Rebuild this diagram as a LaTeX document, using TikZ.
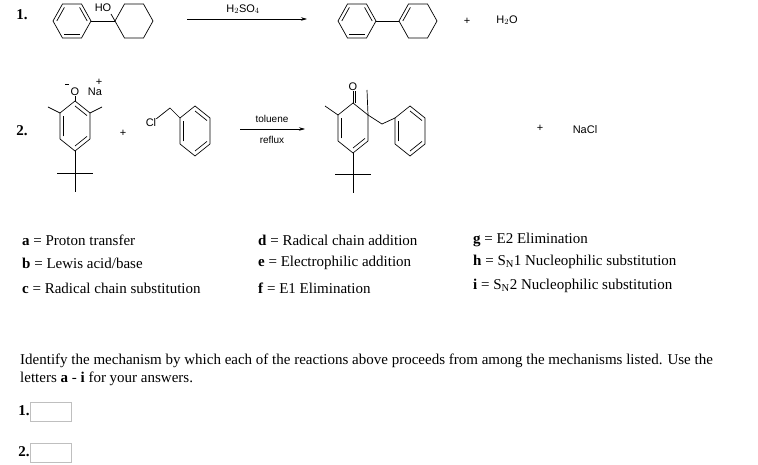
\documentclass[tikz,border=0pt]{standalone}
\usepackage{fontspec}
\setmainfont{Liberation Serif}
\newfontfamily\chemsf{Liberation Sans}
\usetikzlibrary{calc,arrows.meta}
\newcommand{\hexF}[3]{%
  \coordinate (#1) at (#2,#3);
  \coordinate (#11) at ($(#1)+(19,0)$);
  \coordinate (#12) at ($(#1)+(9.5,-17)$);
  \coordinate (#13) at ($(#1)+(-9.5,-17)$);
  \coordinate (#14) at ($(#1)+(-19,0)$);
  \coordinate (#15) at ($(#1)+(-9.5,17)$);
  \coordinate (#16) at ($(#1)+(9.5,17)$);
  \draw[bond] (#11)--(#12)--(#13)--(#14)--(#15)--(#16)--cycle;}
\newcommand{\hexP}[3]{%
  \coordinate (#1) at (#2,#3);
  \coordinate (#11) at ($(#1)+(0,-25)$);
  \coordinate (#12) at ($(#1)+(15,-13)$);
  \coordinate (#13) at ($(#1)+(15,13)$);
  \coordinate (#14) at ($(#1)+(0,25)$);
  \coordinate (#15) at ($(#1)+(-15,13)$);
  \coordinate (#16) at ($(#1)+(-15,-13)$);
  \draw[bond] (#11)--(#12)--(#13)--(#14)--(#15)--(#16)--cycle;}
\newcommand{\inb}[3]{\draw[bond] ($(#1)!0.2!(#3)$)--($(#2)!0.2!(#3)$);}
\begin{document}
\begin{tikzpicture}[x=1pt,y=-1pt,
  bond/.style={line width=0.7pt},
  chem/.style={font=\chemsf\fontsize{11}{13}\selectfont,inner sep=0pt},
  txt/.style={font=\fontsize{15}{17}\selectfont,anchor=west,inner sep=0pt},
  num/.style={font=\bfseries\fontsize{15}{17}\selectfont,inner sep=0pt},
  rarrow/.style={line width=0.6pt,-{Stealth[length=6pt,width=3.5pt]}}]
\useasboundingbox (0,0) rectangle (758,465);
% ---------- reaction 1
\node[num] (n1) at (22,15) {1.};
\hexF{A}{72}{21}
\inb{A3}{A4}{A}\inb{A1}{A2}{A}\inb{A5}{A6}{A}
\hexF{B}{134}{21}
\draw[bond] (A1)--(B4);
\node[chem] (ho) at (103,8) {HO};
\draw[bond] (B4)--(111,14);
\node[chem] (h2so4) at (243,9) {H$_2$SO$_4$};
\coordinate (r1s) at (187,19); \coordinate (r1e) at (307,19);
\draw[rarrow] (r1s)--(r1e);
\hexF{C}{357}{21}
\inb{C3}{C4}{C}\inb{C1}{C2}{C}\inb{C5}{C6}{C}
\hexF{D}{418}{21}
\draw[bond] (C1)--(D4);
\inb{D3}{D4}{D}
\node[chem] (p1) at (467,21) {+};
\node[chem] (h2o) at (507,20) {H$_2$O};
% ---------- reaction 2
\node[num] (n2) at (22,131) {2.};
\hexP{E}{75}{126}
\inb{E5}{E6}{E}\inb{E1}{E2}{E}\inb{E3}{E4}{E}
\node[chem] (o1) at (75,92) {O};
\node[chem] (na) at (95,92) {Na};
\coordinate (miL) at (65,84); \coordinate (miR) at (69,84);
\draw[line width=0.6pt] (miL)--(miR);
\node[chem] (pl) at (99,82) {+};
\draw[bond] (E1)--(o1.south);
\draw[bond] (E6)--(48,107);
\draw[bond] (E2)--(102,107);
\draw[bond] (E4)--(75,192);
\draw[bond] (57,173)--(93,173);
\node[chem] (p2) at (123,133) {+};
\hexP{F}{195}{131}
\inb{F1}{F2}{F}\inb{F3}{F4}{F}\inb{F5}{F6}{F}
\node[chem] (cl) at (151,123) {Cl};
\coordinate (ch2a) at (170,108);
\draw[bond] (cl.north east)--(ch2a)--(F6);
\node[chem,font=\chemsf\fontsize{10}{12}\selectfont] (tol) at (272,119) {toluene};
\node[chem,font=\chemsf\fontsize{10}{12}\selectfont] (ref) at (272,140) {reflux};
\coordinate (r2s) at (240,129); \coordinate (r2e) at (305,129);
\draw[rarrow] (r2s)--(r2e);
\hexP{G}{353}{128}
\inb{G5}{G6}{G}\inb{G3}{G4}{G}
\node[chem] (o2) at (353,87) {O};
\draw[bond] (G1)--(o2.south);
\draw[bond] ($(G1)+(2.5,0)$)--($(o2.south)+(2.5,0)$);
\draw[bond] (G6)--(325,106);
\draw[bond] (G2)--(367,90);
\coordinate (ch2b) at (382,124);
\hexP{H}{410}{131}
\inb{H1}{H2}{H}\inb{H3}{H4}{H}\inb{H5}{H6}{H}
\draw[bond] (G2)--(ch2b)--(H6);
\draw[bond] (G4)--(353,193);
\draw[bond] (335,174)--(371,174);
\node[chem] (p3) at (540,128) {+};
\node[chem] (nacl) at (585,130) {NaCl};
% ---------- mechanisms
\node[txt] (ta) at (22,240) {\textbf{a} = Proton transfer};
\node[txt] (tb) at (22,263) {\textbf{b} = Lewis acid/base};
\node[txt] (tc) at (22,288) {\textbf{c} = Radical chain substitution};
\node[txt] (td) at (258,240) {\textbf{d} = Radical chain addition};
\node[txt] (te) at (258,263) {\textbf{e} = Electrophilic addition};
\node[txt] (tf) at (258,288) {\textbf{f} = E1 Elimination};
\node[txt] (tg) at (473,240) {\textbf{g} = E2 Elimination};
\node[txt] (th) at (473,262) {\textbf{h} = S$_{\mathrm N}$1 Nucleophilic substitution};
\node[txt] (ti) at (473,286) {\textbf{i} = S$_{\mathrm N}$2 Nucleophilic substitution};
\node[txt] (q1) at (20,361) {Identify the mechanism by which each of the reactions above proceeds from among the mechanisms listed. Use the};
\node[txt] (q2) at (20,379) {letters \textbf{a} - \textbf{i} for your answers.};
\node[num] (a1) at (24,411) {1.};
\node[draw=black!25,minimum width=41pt,minimum height=19pt,inner sep=0pt] (b1) at (51,412) {};
\node[num] (a2) at (24,452) {2.};
\node[draw=black!25,minimum width=41pt,minimum height=19pt,inner sep=0pt] (b2) at (51,453) {};
\end{tikzpicture}
\end{document}
